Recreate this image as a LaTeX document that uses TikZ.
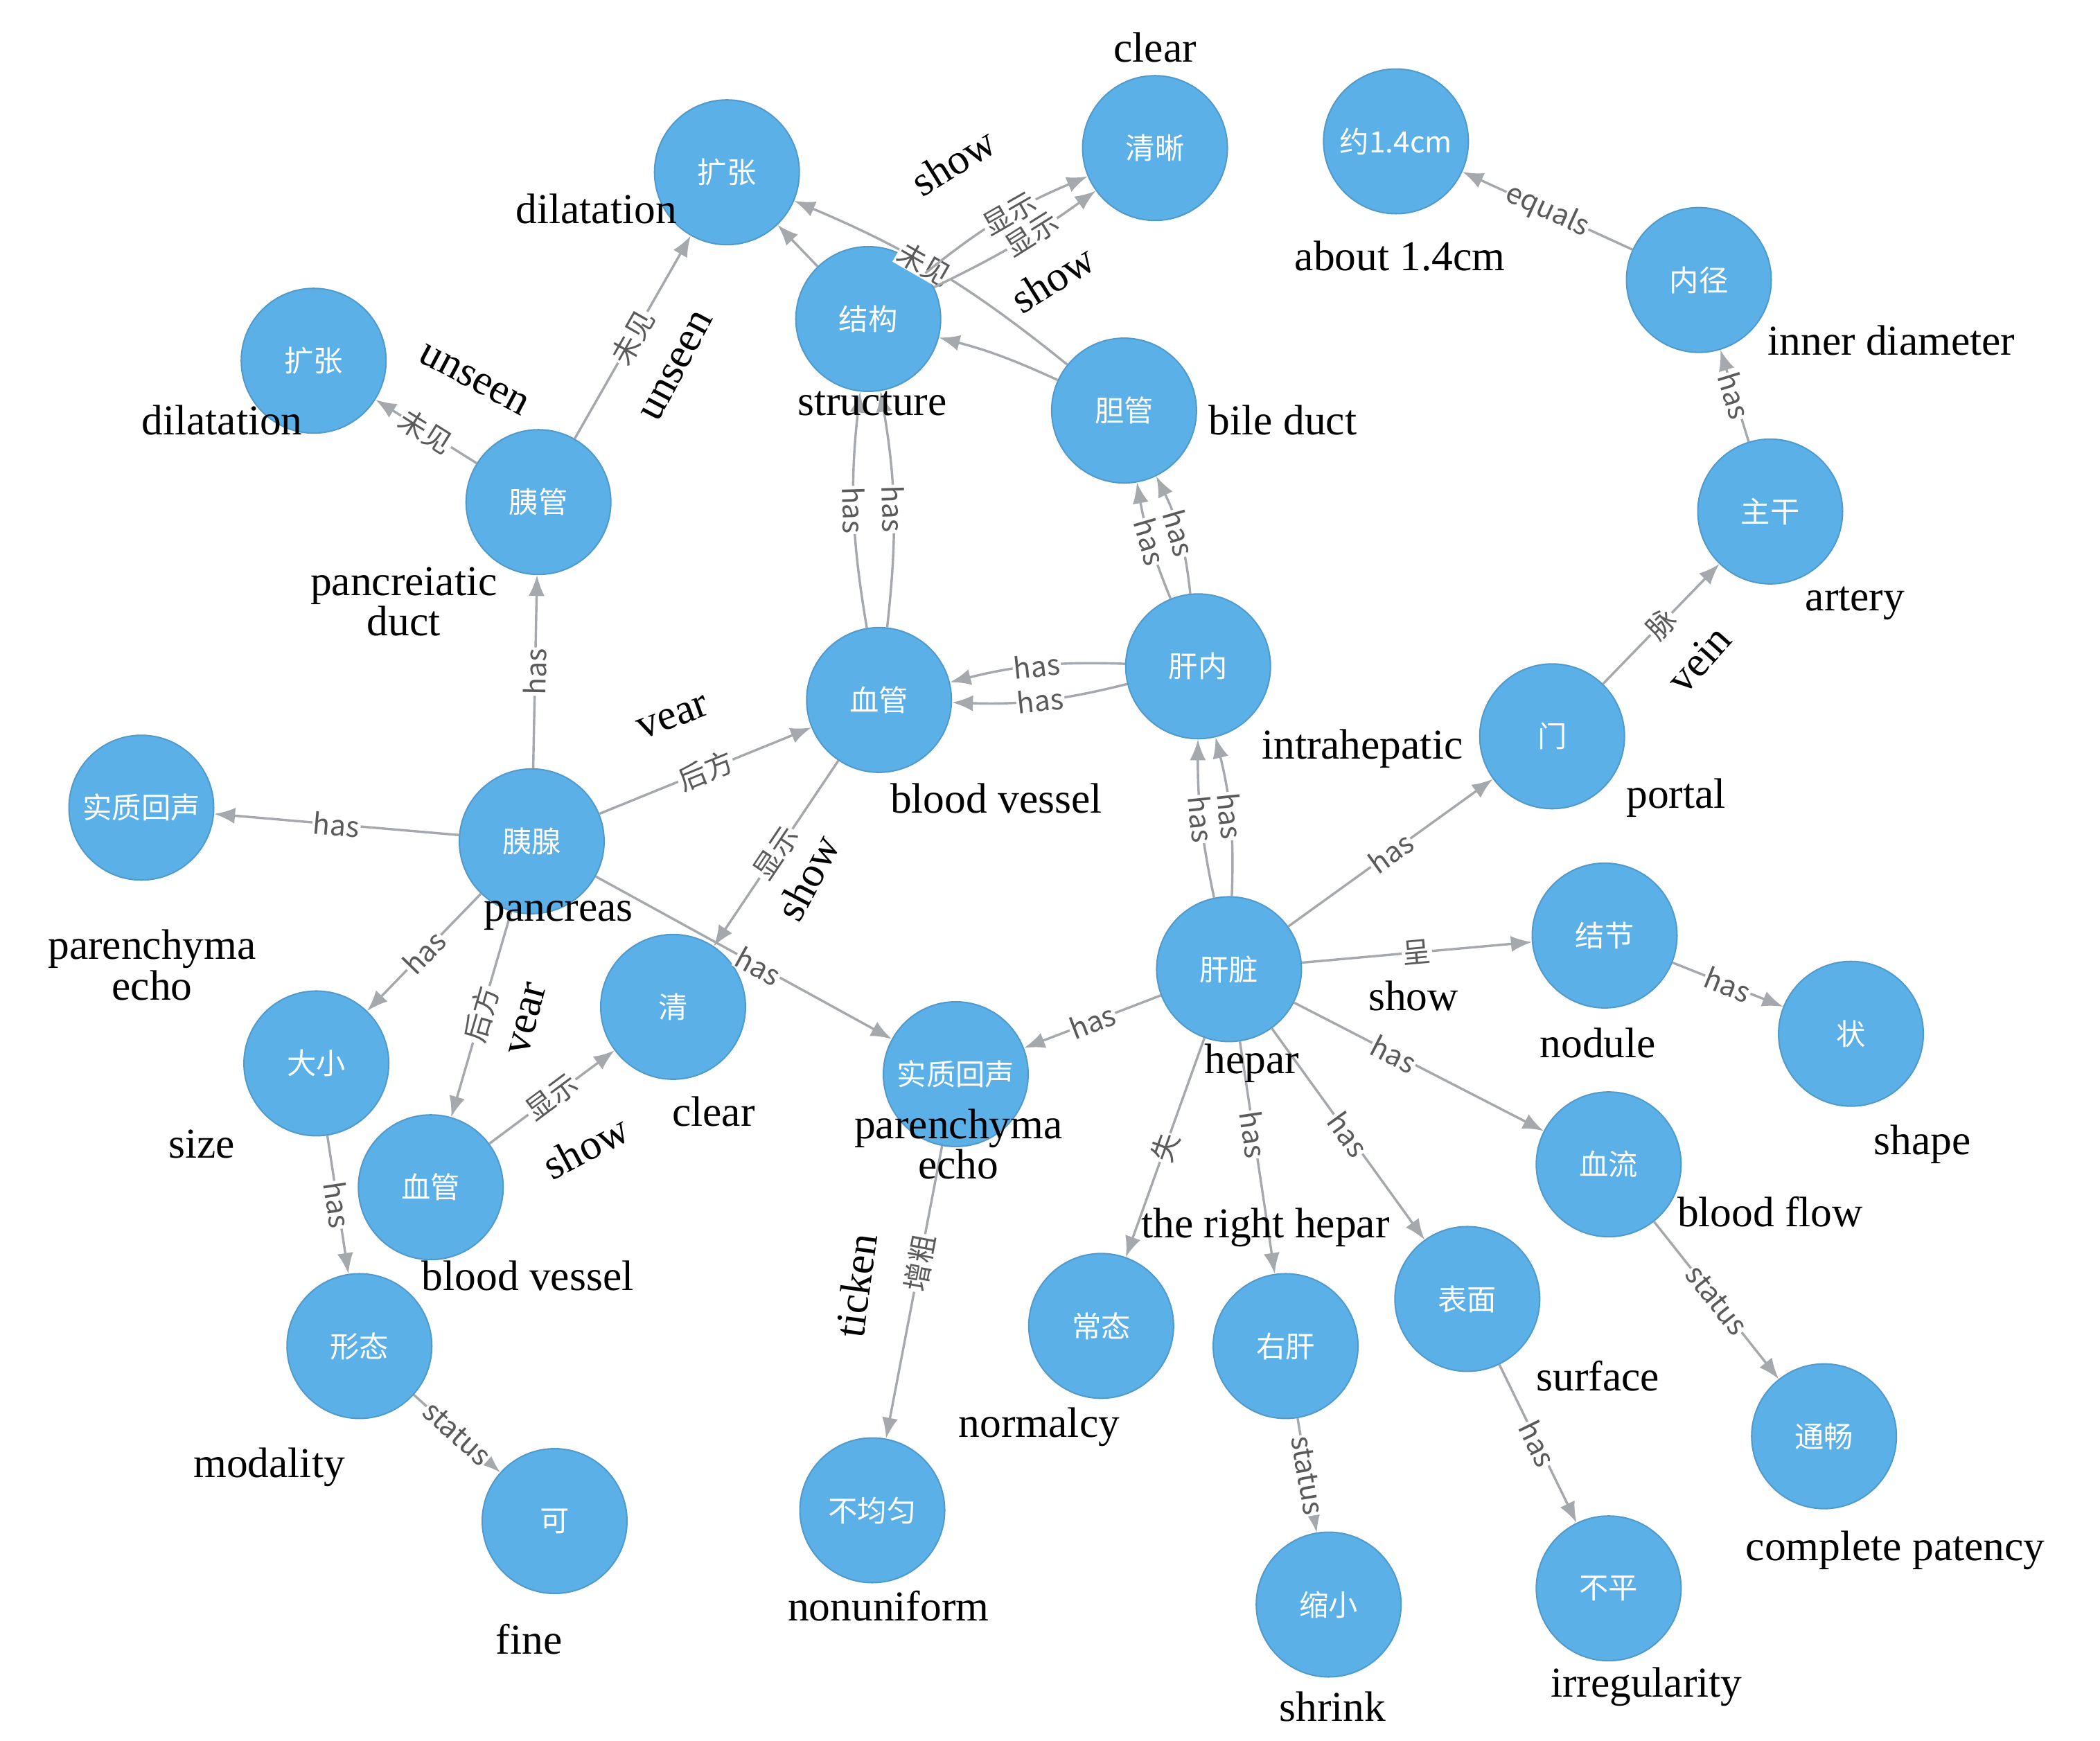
\documentclass[tikz,border=0pt]{standalone}
\usepackage{fontspec}
\setmainfont{Liberation Serif}
\newfontfamily\cjk{Noto Sans CJK SC}
\usetikzlibrary{arrows.meta}
\definecolor{nodeblue}{RGB}{92,176,232}
\definecolor{edgegray}{RGB}{165,168,172}
\definecolor{labgray}{RGB}{90,90,90}
\tikzset{
 n/.style={circle, fill=nodeblue, draw=nodeblue!88!black, line width=1.5pt, minimum size=153pt, inner sep=0pt, text=white, font=\cjk\fontsize{31}{31}\selectfont},
 e/.style={-{Latex[length=22pt,width=17pt]}, draw=edgegray, line width=2.5pt},
 el/.style={sloped, fill=white, inner sep=1pt, text=labgray, font=\cjk\fontsize{30}{30}\selectfont},
 en/.style={font=\fontsize{45}{45}\selectfont, align=center, inner sep=0pt}
}
\begin{document}
\begin{tikzpicture}[x=0.5mm,y=-0.5mm]
\useasboundingbox (0,0) rectangle (1560,1293);
% nodes
\node[n] (kz1) at (540,128) {扩张};
\node[n] (qx) at (858,110) {清晰};
\node[n] (yue) at (1037,105) {约1.4cm};
\node[n] (nj) at (1262,208) {内径};
\node[n] (kz2) at (233,268) {扩张};
\node[n] (jg) at (645,237) {结构};
\node[n] (dg) at (835,305) {胆管};
\node[n] (zg) at (1315,380) {主干};
\node[n] (yg) at (400,373) {胰管};
\node[n] (xg1) at (653,520) {血管};
\node[n] (gn) at (890,495) {肝内};
\node[n] (men) at (1153,547) {门};
\node[n] (sz1) at (105,600) {实质回声};
\node[n] (yx) at (395,625) {胰腺};
\node[n] (gz) at (913,720) {肝脏};
\node[n] (jj) at (1192,695) {结节};
\node[n] (zh) at (1375,768) {状};
\node[n] (dx) at (235,790) {大小};
\node[n] (qing) at (500,748) {清};
\node[n] (sz2) at (710,798) {实质回声};
\node[n] (xg2) at (320,882) {血管};
\node[n] (xl) at (1195,865) {血流};
\node[n] (xt) at (267,1000) {形态};
\node[n] (ct) at (818,985) {常态};
\node[n] (ygan) at (955,1000) {右肝};
\node[n] (bm) at (1090,965) {表面};
\node[n] (tc) at (1355,1067) {通畅};
\node[n] (ke) at (412,1130) {可};
\node[n] (bj) at (648,1122) {不均匀};
\node[n] (sx) at (987,1192) {缩小};
\node[n] (bp) at (1195,1180) {不平};
% edges
\draw[e] (yg) -- node[el]{未见} (kz2);
\draw[e] (yg) -- node[el]{未见} (kz1);
\draw[e] (jg) -- (kz1);
\draw[e] (dg) to[bend right=8] node[el,pos=0.55]{未见} (kz1);
\draw[e] (jg) to[bend left=8] node[el,pos=0.55]{显示} (qx);
\draw[e] (jg) to[bend right=5] node[el,pos=0.6]{显示} (qx);
\draw[e] (dg) to[bend right=5] (jg);
\draw[e] (xg1) to[bend left=8] node[el]{has} (jg);
\draw[e] (xg1) to[bend right=8] node[el]{has} (jg);
\draw[e] (gn) to[bend left=6] node[el]{has} (dg);
\draw[e] (gn) to[bend right=10] node[el]{has} (dg);
\draw[e] (gn) to[bend right=8] node[el]{has} (xg1);
\draw[e] (gn) to[bend left=8] node[el]{has} (xg1);
\draw[e] (gz) to[bend left=6] node[el]{has} (gn);
\draw[e] (gz) to[bend right=8] node[el]{has} (gn);
\draw[e] (yx) -- node[el]{has} (yg);
\draw[e] (yx) -- node[el]{后方} (xg1);
\draw[e] (yx) -- node[el]{has} (sz1);
\draw[e] (yx) -- node[el]{has} (dx);
\draw[e] (yx) -- node[el]{后方} (xg2);
\draw[e] (yx) -- node[el,pos=0.55]{has} (sz2);
\draw[e] (xg1) -- node[el]{显示} (qing);
\draw[e] (xg2) -- node[el]{显示} (qing);
\draw[e] (dx) -- node[el]{has} (xt);
\draw[e] (xt) -- node[el]{status} (ke);
\draw[e] (gz) -- node[el]{has} (sz2);
\draw[e] (sz2) -- node[el,pos=0.4]{增粗} (bj);
\draw[e] (gz) -- node[el]{has} (men);
\draw[e] (men) -- node[el]{脉} (zg);
\draw[e] (zg) -- node[el]{has} (nj);
\draw[e] (nj) -- node[el]{equals} (yue);
\draw[e] (gz) -- node[el]{呈} (jj);
\draw[e] (jj) -- node[el]{has} (zh);
\draw[e] (gz) -- node[el,pos=0.4]{has} (xl);
\draw[e] (xl) -- node[el]{status} (tc);
\draw[e] (gz) -- node[el]{失} (ct);
\draw[e] (gz) -- node[el,pos=0.4]{has} (ygan);
\draw[e] (ygan) -- node[el]{status} (sx);
\draw[e] (gz) -- node[el]{has} (bm);
\draw[e] (bm) -- node[el]{has} (bp);
% English labels
\node[en] (l1) at (443,155) {dilatation};
\node[en] (l2) at (858,35) {clear};
\node[en] (l3) at (1040,190) {about 1.4cm};
\node[en] (l4) at (1405,253) {inner diameter};
\node[en] (l5) at (165,312) {dilatation};
\node[en] (l6) at (648,300) {structure};
\node[en] (l7) at (953,312) {bile duct};
\node[en] (l8) at (1378,448) {artery};
\node[en] (l9) at (300,447) {pancreiatic\\[-2pt]duct};
\node[en] (l10) at (740,593) {blood vessel};
\node[en] (l11) at (1012,556) {intrahepatic};
\node[en] (l12) at (1245,593) {portal};
\node[en] (l13) at (113,717) {parenchyma\\[-2pt]echo};
\node[en] (l14) at (415,680) {pancreas};
\node[en] (l15) at (930,790) {hepar};
\node[en] (l16) at (1187,775) {nodule};
\node[en] (l17) at (1428,850) {shape};
\node[en] (l18) at (150,850) {size};
\node[en] (l19) at (530,826) {clear};
\node[en] (l20) at (712,850) {parenchyma\\[-2pt]echo};
\node[en] (l21) at (392,948) {blood vessel};
\node[en] (l22) at (1315,900) {blood flow};
\node[en] (l23) at (200,1090) {modality};
\node[en] (l24) at (772,1060) {normalcy};
\node[en] (l25) at (940,912) {the right hepar};
\node[en] (l26) at (1187,1022) {surface};
\node[en] (l27) at (1408,1152) {complete patency};
\node[en] (l28) at (393,1218) {fine};
\node[en] (l29) at (660,1193) {nonuniform};
\node[en] (l30) at (990,1268) {shrink};
\node[en] (l31) at (1223,1253) {irregularity};
% rotated relation translations
\node[en,rotate=-28] (r1) at (352,282) {unseen};
\node[en,rotate=62] (r2) at (503,272) {unseen};
\node[en,rotate=32] (r3) at (708,120) {show};
\node[en,rotate=32] (r4) at (782,207) {show};
\node[en,rotate=20] (r5) at (500,533) {vear};
\node[en,rotate=75] (r6) at (392,757) {vear};
\node[en,rotate=62] (r7) at (600,652) {show};
\node[en,rotate=28] (r8) at (435,852) {show};
\node[en,rotate=82] (r9) at (636,955) {ticken};
\node[en,rotate=48] (r10) at (1262,490) {vein};
\node[en] (r11) at (1050,740) {show};
\end{tikzpicture}
\end{document}
